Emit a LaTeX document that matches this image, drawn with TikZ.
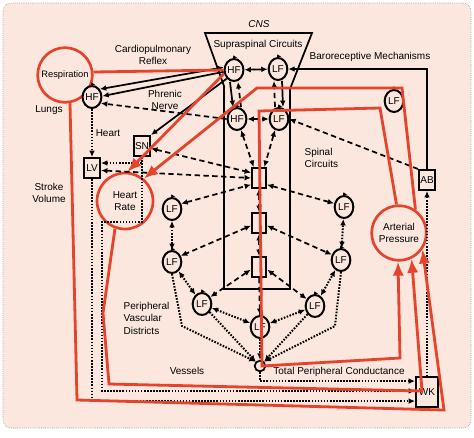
\documentclass[tikz,border=0pt]{standalone}
\usepackage{fontspec}
\setmainfont{Liberation Sans}
\usepackage{xcolor}
\usepackage{tikz}
\usetikzlibrary{shapes,arrows.meta,positioning,calc}

\definecolor{bgpink}{HTML}{FBE7DE}
\definecolor{pathred}{HTML}{E5432B}

\newcommand{\oscmark}[1]{\fill ([xshift=-0.8pt]#1.north) -- ++(3.6pt,-0.2pt) -- ++(-3.2pt,2.2pt) -- cycle;}

\begin{document}
\begin{tikzpicture}[x=0.75pt, y=-0.75pt, >={Latex[length=4.8pt,width=4.3pt]},
    font=\fontsize{7.5}{9}\selectfont,
    wire/.style={line width=1.3pt},
    dashline/.style={wire, dash pattern=on 4pt off 2.6pt},
    dotline/.style={line width=1.5pt, dash pattern=on 1.2pt off 1.1pt},
    osc/.style={draw, ellipse, line width=1.5pt, minimum width=14pt, minimum height=16.5pt, inner sep=0pt},
    unit/.style={draw, line width=1.5pt, minimum width=12pt, minimum height=15pt, inner sep=0.5pt},
    organ/.style={draw=pathred, circle, line width=2pt, minimum size=41pt, inner sep=0pt, align=center},
    redline/.style={draw=pathred, line width=2.1pt},
    redarrow/.style={redline, -{Latex[length=10.5pt,width=8.5pt]}}]
    \useasboundingbox (0,0) rectangle (474,437);

    % Frame
    \fill[bgpink, rounded corners=6pt] (3,3) rectangle (471,428);
    \draw[gray, densely dotted, rounded corners=6pt] (3,3) rectangle (471,428);

    % CNS outline
    \draw[wire] (205,33) -- (312,33) -- (290,89) -- (290,289) -- (224,289) -- (224,86) -- cycle;
    \node (cns) at (259,24) {\itshape CNS};
    \node (supra) at (258,45) {Supraspinal Circuits};

    % Organs
    \node[organ, font=\fontsize{7}{8}\selectfont] (resp) at (65,75) {Respiration};
    \node[organ, minimum size=42pt] (hr) at (125,201) {Heart\\Rate};
    \node[organ] (ap) at (399,233) {Arterial\\Pressure};

    % Oscillators
    \node[osc] (hfA) at (234,70) {HF};
    \node[osc] (lfA) at (278,69) {LF};
    \node[osc] (hfB) at (237,119) {HF};
    \node[osc] (lfB) at (279,119) {LF};
    \node[osc, fill=bgpink] (hfL) at (92,97) {HF};
    \node[osc] (lfT) at (394,101) {LF};
    \node[osc] (lfC) at (172,209) {LF};
    \node[osc] (lfG) at (172,262) {LF};
    \node[osc] (lfD) at (202,304) {LF};
    \node[osc] (lfF) at (260,327) {LF};
    \node[osc] (lfE) at (315,306) {LF};
    \node[osc] (lfH) at (341,260) {LF};
    \node[osc] (lfR) at (344,207) {LF};
    \foreach \n in {hfA,lfA,hfB,lfB,hfL,lfT,lfC,lfG,lfD,lfF,lfE,lfH,lfR}
        \oscmark{\n};

    % Boxes
    \node[unit] (sn) at (142,146) {SN};
    \node[unit] (lv) at (92,168) {LV};
    \node[unit] (ab) at (427,180) {AB};
    \node[unit, minimum width=16.5pt, minimum height=22pt] (wk) at (427,392) {WK};
    \node[unit, minimum width=10.5pt] (sA) at (259,178) {};
    \node[unit, minimum width=10.5pt] (sB) at (259,223) {};
    \node[unit, minimum width=11pt] (sC) at (259,267) {};
    \node[draw, circle, wire, minimum size=8pt, inner sep=0pt] (jn) at (260,366) {};

    % Labels
    \node[align=center] (cpr) at (153,55) {Cardiopulmonary\\Reflex};
    \node[align=center] (phr) at (165,100) {Phrenic\\Nerve};
    \node (lungs) at (49,110) {Lungs};
    \node (heart) at (108,133) {Heart};
    \node[align=center] (sv) at (49,193) {Stroke\\Volume};
    \node[anchor=west, align=left] (spin) at (300,158) {Spinal\\Circuits};
    \node[anchor=west, align=left, font=\fontsize{7.5}{9.4}\selectfont] (pvd) at (119,318) {Peripheral\\Vascular\\Districts};
    \node (vess) at (187,371) {Vessels};
    \node (tpc) at (339,372) {Total Peripheral Conductance};
    \node (baro) at (370,57) {Baroreceptive Mechanisms};

    % Helper points
    \coordinate (wkA) at ([yshift=8.2pt]wk.west);
    \coordinate (wkB) at ([yshift=0.8pt]wk.west);
    \coordinate (wkC) at ([yshift=-6.8pt]wk.west);
    \coordinate (snlv) at (142,163);

    % Neural links
    \draw[<->, wire] (hfA) -- (lfA);
    \draw[->, wire] ([xshift=-3pt]hfA.south) -- ([xshift=-3pt]hfB.north);
    \draw[->, dashline] ([xshift=3pt]hfB.north) -- ([xshift=3pt]hfA.south);
    \draw[->, dashline] ([xshift=-3pt]lfB.north) -- ([xshift=-3pt]lfA.south);
    \draw[->, wire] ([xshift=3pt]lfA.south) -- ([xshift=3pt]lfB.north);
    \draw[<->, dashline] (hfB) -- (lfB);
    \draw[<->, wire] (hfA.165) -- (hfL.45);
    \draw[->, wire] (hfA.190) -- (hfL.5);
    \draw[->, wire] (hfA.230) -- (sn.north east);
    \draw[->, wire] (ab.north) |- (lfA.east);
    \draw[->, dashline] (ab.north west) -- (lfB.east);
    \draw[->, dashline] (hfB.west) -- (hfL.-35);

    % Spinal links
    \draw[<->, dashline] (hfB.-70) -- ([xshift=2pt]sA.north west);
    \draw[<->, dashline] (lfB.-110) -- ([xshift=-2pt]sA.north east);
    \draw[<->, dashline] (sn.-15) -- ([yshift=4pt]sA.west);
    \draw[<->, dashline] (lv.-15) -- (sA.west);
    \draw[<->, dashline] (lfC.30) -- ([yshift=-5pt]sA.west);
    \draw[<->, dashline] ([yshift=-5pt]sA.east) -- (lfR.160);
    \draw[<->, dashline] (sA) -- (sB);
    \draw[<->, dashline] (sB) -- (sC);
    \draw[->, dashline] (sC) -- (lfF);
    \draw[<->, dashline] ([yshift=-2pt]sB.west) -- (lfG.35);
    \draw[<->, dashline] ([yshift=-2pt]sB.east) -- (lfH.150);
    \draw[<->, dashline] ([yshift=-2pt]sC.west) -- (lfD.40);
    \draw[<->, dashline] ([yshift=-2pt]sC.east) -- (lfE.140);

    % Vascular chain
    \draw[<->, dotline] (lfC) -- (lfG);
    \draw[<->, dotline] (lfG) -- (lfD);
    \draw[<->, dotline] (lfD) -- (lfF);
    \draw[<->, dotline] (lfF) -- (lfE);
    \draw[<->, dotline] (lfE) -- (lfH);
    \draw[<->, dotline] (lfH) -- (lfR);
    \draw[->, dotline] (lfG.south) -- (182,326) -- (jn.north west);
    \draw[->, dotline] (lfD) -- (jn);
    \draw[->, dotline] (lfF) -- (jn);
    \draw[->, dotline] (lfE) -- (jn);
    \draw[->, dotline] (lfH.south) -- (335,326) -- (jn.north east);
    \draw[->, dotline] (jn.south) |- (wkA);

    % Heart
    \draw[->, dotline] (hfL.south) -- (lv.north);
    \draw[->, dotline] (snlv) -- (snlv -| lv.east);
    \draw[->, dotline] (sn.south) -- (142,222) -- (102,222) |- (wkB);
    \draw[->, dotline] (lv.south) |- (wkC);
    \draw[->, dotline] (wk.north) -- (ab.south);

    % Coupling paths
    \draw[redline] (resp.6) -- (hfA.180);
    \draw[redarrow] (hfA.200) -- (hr.85);
    \draw[redarrow] (ap.55) -- (402,88) -- (257,88) -- (hr.50);
    \draw[redarrow] (ap.95) -- (380,108) -- (259,111) -- (262,366) -- (400,358) -- (ap.-92);
    \draw[redarrow] (hr.-110) -- (103,313) -- (109,384) -- (422,391) -- (ap.-64);
    \draw[redarrow] (resp.-80) -- (77,400) -- (444,410) -- (ap.-35);
\end{tikzpicture}
\end{document}
